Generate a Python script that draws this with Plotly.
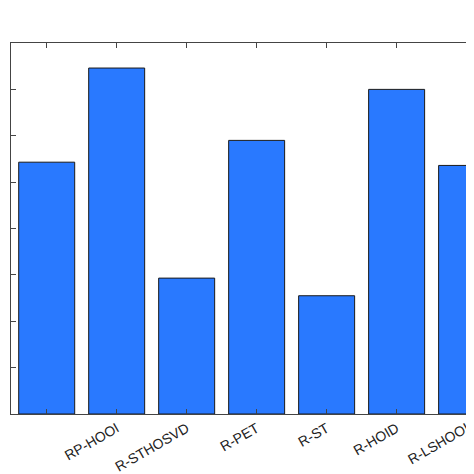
import plotly.graph_objects as go

methods = ["R-HOSVD", "RP-HOOI", "R-STHOSVD", "R-PET", "R-ST", "R-HOID", "R-LSHOOI"]
values = [5.43, 7.46, 2.93, 5.90, 2.55, 7.00, 5.36]

fig = go.Figure(go.Bar(
    x=list(range(len(methods))), y=values, width=0.8,
    marker=dict(color="#2979ff", line=dict(color="#1a1a1a", width=1)),
))

axis = dict(showgrid=False, zeroline=False, showline=True, linecolor="#444", linewidth=1,
            mirror="ticks", ticks="inside", ticklen=5, tickcolor="#444", automargin=False)
fig.update_xaxes(**axis, range=[-0.51, 6.22], tickmode="array",
                 tickvals=list(range(len(methods))), ticktext=methods, tickangle=-30,
                 tickfont=dict(family="Liberation Sans", size=14, color="#222"))
fig.update_yaxes(**axis, range=[0, 8], dtick=1, showticklabels=False)
fig.update_layout(width=474, height=474, margin=dict(l=3, r=0, t=35, b=68),
                  plot_bgcolor="white", paper_bgcolor="white", showlegend=False)
fig.write_html("out.html")
